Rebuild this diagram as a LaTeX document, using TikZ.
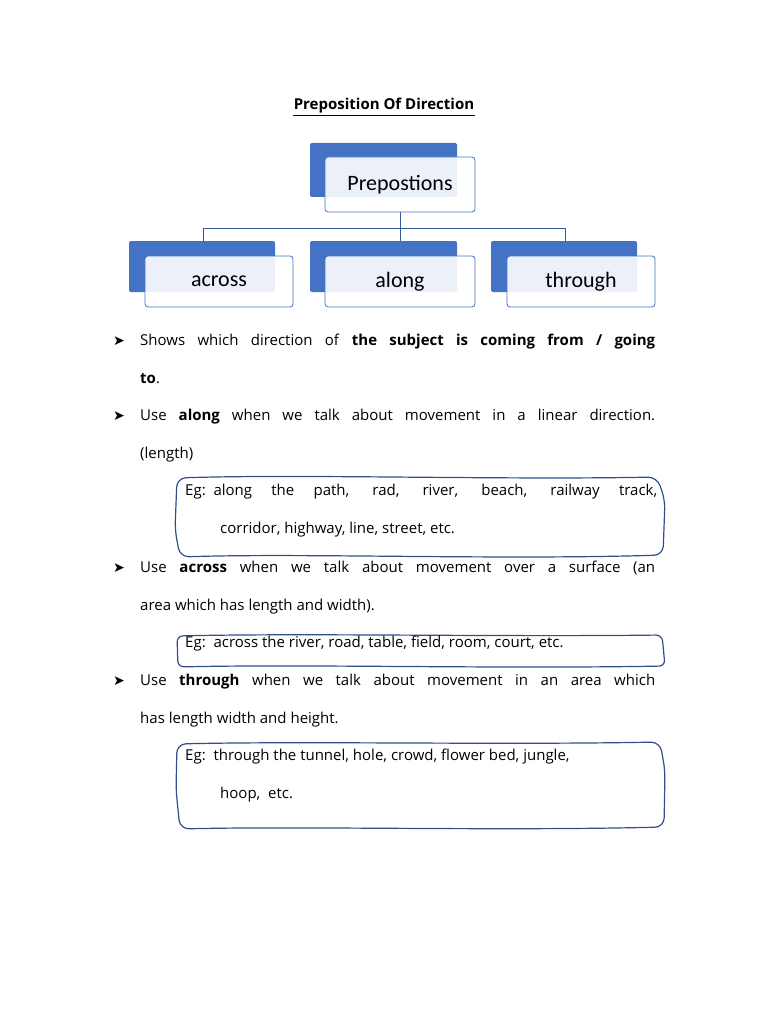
\documentclass[tikz,border=0pt]{standalone}
\usepackage{fontspec}
\setmainfont{Open Sans}
\newfontfamily\calib{Carlito}
\newfontfamily\dejavu{DejaVu Sans}
\definecolor{dblue}{HTML}{4472C4}
\definecolor{eblue}{HTML}{2F4F8A}
\begin{document}
\begin{tikzpicture}[x=1pt,y=-1pt,
  back/.style={fill=dblue,rounded corners=2pt},
  front/.style={draw=dblue,fill=white,fill opacity=0.9,text opacity=1,rounded corners=3pt,line width=0.8pt,font=\calib\fontsize{22}{24}\selectfont},
  conn/.style={draw=dblue!80!black,line width=0.8pt},
  body/.style={anchor=north west,inner sep=0pt,text width=515pt,align=justify,font=\fontsize{15}{38}\selectfont},
  eg/.style={anchor=north west,inner sep=0pt,font=\fontsize{15}{38}\selectfont},
  wavy/.style={draw=eblue,line width=1.2pt,rounded corners=9pt},
  arr/.style={anchor=west,inner sep=0pt,font=\dejavu\fontsize{14}{18}\selectfont}]
\useasboundingbox (0,0) rectangle (768,1024);
\node[font=\bfseries\fontsize{15}{18}\selectfont,inner sep=1pt] (title) at (384,106) {Preposition Of Direction};
\draw[line width=1pt] ([yshift=-1pt]title.south west) -- ([yshift=-1pt]title.south east);
% chart
\fill[back] (310,143) rectangle (457,197);
\node[front,minimum width=150pt,minimum height=55pt] (p) at (400,184.5) {Prepostions};
\fill[back] (129,241) rectangle (275,292);
\node[front,minimum width=148pt,minimum height=51pt] (a1) at (219,281.5) {across};
\fill[back] (310,241) rectangle (457,292);
\node[front,minimum width=150pt,minimum height=51pt] (a2) at (400,281.5) {along};
\fill[back] (491,241) rectangle (637,292);
\node[front,minimum width=148pt,minimum height=51pt] (a3) at (581,281.5) {through};
\coordinate (j) at (400,228);
\coordinate (jl) at (203,228);
\coordinate (jr) at (565,228);
\coordinate (tl) at (203,241);
\coordinate (tr) at (565,241);
\coordinate (tm) at (400,241);
\draw[conn] (p.south) -- (j) (jl) -- (jr) (jl) -- (tl) (jr) -- (tr) (j) -- (tm);
% bullets
\node[arr] (b1) at (113,341) {➤};
\node[body] (t1) at (140,334) {Shows which direction of \textbf{the subject is coming from / going}\linebreak \textbf{to}.};
\node[arr] (b2) at (113,416) {➤};
\node[body] (t2) at (140,409) {Use \textbf{along} when we talk about movement in a linear direction.\linebreak (length)};
\draw[wavy] (177,478) .. controls (300,474) and (500,480) .. (657,477) -- (665,500) -- (663,555) .. controls (500,560) and (300,553) .. (180,557) -- (175,530) -- cycle;
\node[eg,text width=472pt,align=justify] (e1) at (185,484) {\hbox{Eg:\ \ along} the path, rad, river, beach, railway track,\linebreak \hspace*{35pt}corridor, highway, line, street, etc.};
\node[arr] (b3) at (113,568) {➤};
\node[body] (t3) at (140,561) {Use \textbf{across} when we talk about movement over a surface (an\linebreak area which has length and width).};
\draw[wavy,rounded corners=6pt] (177,636) .. controls (300,633) and (500,637) .. (662,635) -- (665,666) .. controls (500,669) and (300,664) .. (178,667) -- cycle;
\node[eg] (e2) at (185,636) {Eg:\ \ across the river, road, table, field, room, court, etc.};
\node[arr] (b4) at (113,681) {➤};
\node[body] (t4) at (140,674) {Use \textbf{through} when we talk about movement in an area which\linebreak has length width and height.};
\draw[wavy] (177,744) .. controls (300,741) and (500,745) .. (660,742) -- (665,770) -- (664,827) .. controls (500,831) and (300,826) .. (180,829) -- (176,790) -- cycle;
\node[eg] (e3) at (185,749) {Eg:\ \ through the tunnel, hole, crowd, flower bed, jungle,};
\node[eg] (e3b) at (220,787) {hoop,\ \ etc.};
\end{tikzpicture}
\end{document}
